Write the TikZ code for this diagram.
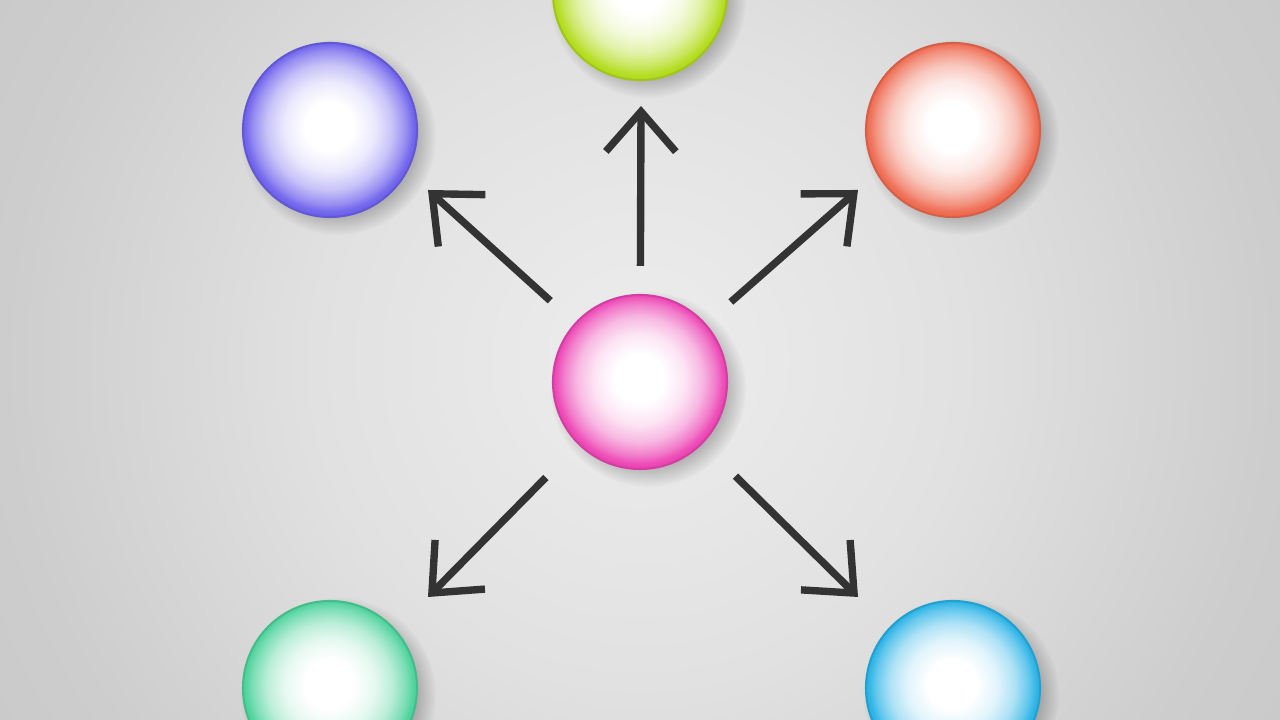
\documentclass[tikz,border=0pt]{standalone}
\usetikzlibrary{arrows.meta,fadings}

\definecolor{hubpink}{HTML}{EC45B4}
\definecolor{limegreen}{HTML}{B2DC1C}
\definecolor{violetblue}{HTML}{6E62EC}
\definecolor{salmonred}{HTML}{EE6A50}
\definecolor{mintgreen}{HTML}{4CD29A}
\definecolor{skyblue}{HTML}{28B2E6}
\definecolor{arrowgray}{HTML}{333333}
\definecolor{bgin}{HTML}{EDEDED}
\definecolor{bgmid}{HTML}{E1E1E1}
\definecolor{bgout}{HTML}{CDCDCD}
\definecolor{bgedge}{HTML}{CACACA}

% glassy ball shading, colour taken from ballcol when used
\colorlet{ballcol}{hubpink}
\pgfdeclareradialshading[ballcol]{sphere}{\pgfpoint{-0.3bp}{1.2bp}}{%
  color(0bp)=(white); color(7bp)=(white); color(13bp)=(ballcol!14!white);
  color(18bp)=(ballcol!38!white); color(22bp)=(ballcol!72!white);
  color(24bp)=(ballcol!95!white); color(25bp)=(ballcol); color(50bp)=(ballcol)}
\pgfdeclareradialshading{backdrop}{\pgfpointorigin}{%
  color(0bp)=(bgin); color(11bp)=(bgmid); color(21.5bp)=(bgout); color(25bp)=(bgedge);
  color(50bp)=(bgedge)}

\begin{document}
\begin{tikzpicture}[
    ball/.style={circle, inner sep=0pt, minimum size=1.74cm,
      /utils/exec={\colorlet{ballcol}{#1}}, shading=sphere,
      draw=#1!90!black, line width=0.6pt},
    shadow/.style={fill=black, opacity=0.22, path fading=circle with fuzzy edge 20 percent},
    link/.style={-{Straight Barb[length=4.0mm, width=7.0mm]}, line width=2.1pt, arrowgray}
]
\useasboundingbox (0,0) rectangle (12.8,7.2);
\clip (0,0) rectangle (12.8,7.2);

% Backdrop
\shade[shading=backdrop] (6.4,3.6) circle (7.4);

% Soft shadows under the balls
\foreach \x/\y in {6.40/3.38, 6.40/7.27, 3.30/5.90, 9.53/5.90, 3.30/0.32, 9.53/0.32}
  \fill[shadow] (\x+0.08,\y-0.07) circle (0.98);

% Balls
\node[ball=hubpink] (hub) at (6.40,3.38) {};
\node[ball=limegreen] (top) at (6.40,7.27) {};
\node[ball=violetblue] (upleft) at (3.30,5.90) {};
\node[ball=salmonred] (upright) at (9.53,5.90) {};
\node[ball=mintgreen] (downleft) at (3.30,0.32) {};
\node[ball=skyblue] (downright) at (9.53,0.32) {};

% Arrow tips, just short of each ball
\path (top) ++(0.01,-1.13) coordinate (top tip);
\path (upleft) ++(0.98,-0.60) coordinate (upleft tip);
\path (upright) ++(-0.95,-0.60) coordinate (upright tip);
\path (downleft) ++(0.98,0.91) coordinate (downleft tip);
\path (downright) ++(-0.95,0.91) coordinate (downright tip);

% Arrows
\draw[link, shorten <=0.28cm] (hub) -- (top tip);
\draw[link, shorten <=0.33cm] (hub) -- (upleft tip);
\draw[link, shorten <=0.33cm] (hub) -- (upright tip);
\draw[link, shorten <=0.46cm] (hub) -- (downleft tip);
\draw[link, shorten <=0.46cm] (hub) -- (downright tip);

\end{tikzpicture}
\end{document}
